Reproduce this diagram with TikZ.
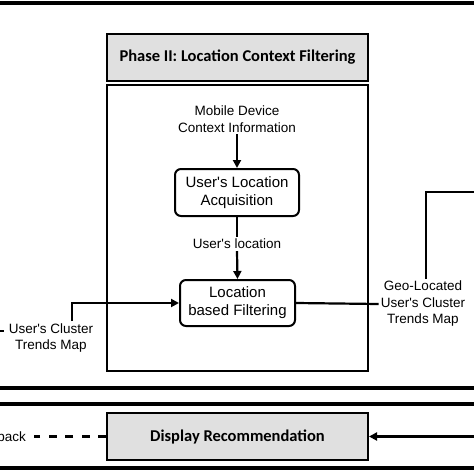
\documentclass[tikz,border=0pt]{standalone}
\usepackage{fontspec}
\newfontfamily\arialf{Liberation Sans}
\newfontfamily\calibrif{Carlito}
\usetikzlibrary{arrows.meta,shadows}
\definecolor{boxgray}{RGB}{224,224,224}
\begin{document}
\begin{tikzpicture}[x=1pt,y=-1pt,
  sep/.style={line width=3.2pt},
  phasebox/.style={draw, line width=2pt, fill=boxgray, minimum width=261pt, minimum height=47pt, inner sep=0pt,
     font=\calibrif\bfseries\fontsize{16.5}{19}\selectfont,
     drop shadow={opacity=0.35, shadow xshift=1.2pt, shadow yshift=-1.2pt}},
  proc/.style={draw, line width=2pt, rounded corners=6pt, inner sep=0pt, align=center,
     font=\arialf\fontsize{15}{18}\selectfont},
  lbl/.style={align=center, inner sep=2pt, font=\arialf\fontsize{13.5}{16.5}\selectfont},
  arr/.style={line width=2.2pt, -{Triangle[length=8pt,width=8pt]}},
  ln/.style={line width=2.2pt},
  dsh/.style={line width=2.6pt, dash pattern=on 8pt off 8.5pt}
]
\useasboundingbox (0,0) rectangle (474,474);
% separators
\draw[sep] (0,3) -- (474,3);
\draw[sep] (0,388) -- (474,388);
\draw[sep] (0,404) -- (474,404);
\draw[sep] (0,468) -- (474,468);
% phase header
\node[phasebox] (phase) at (237.5,57.5) {Phase II: Location Context Filtering};
% main box
\node[draw, line width=2pt, minimum width=261pt, minimum height=286pt, inner sep=0pt] (main) at (237.5,228) {};
% content
\node[lbl] (mobile) at (237,119) {Mobile Device\\Context Information};
\node[proc, minimum width=124pt, minimum height=47pt] (acq) at (237,192.5) {User's Location\\Acquisition};
\node[lbl] (uloc) at (237,244) {User's location};
\node[proc, minimum width=115pt, minimum height=46pt] (filt) at (237.5,303) {Location\\based Filtering};
\draw[arr] (mobile.south) -- (acq.north);
\draw[ln] (acq.south) -- (uloc.north);
\draw[arr] (uloc.south) -- (filt.north);
% left input
\node[lbl] (ucl) at (51,338) {User's Cluster\\Trends Map};
\coordinate (lc) at (72,321);
\draw[arr] (lc) |- (filt.west);
\coordinate (ltick) at (0,331);
\coordinate (ltick2) at (4,331);
\draw[ln] (ltick) -- (ltick2);
% right output
\node[lbl] (geo) at (423,304) {Geo-Located\\User's Cluster\\Trends Map};
\draw[ln] (filt.east) -- (geo.west);
\coordinate (rtop) at (474,192);
\draw[ln] ([xshift=3pt]geo.north) |- (rtop);
% display recommendation
\node[phasebox] (disp) at (237.5,436.5) {Display Recommendation};
\coordinate (rin) at (474,436.5);
\draw[arr] (rin) -- (disp.east);
\node[lbl, anchor=east, inner sep=0pt] (fb) at (26,436.5) {Feedback};
\coordinate (dend) at (34,436.5);
\draw[dsh] (disp.west) -- (dend);
\end{tikzpicture}
\end{document}
